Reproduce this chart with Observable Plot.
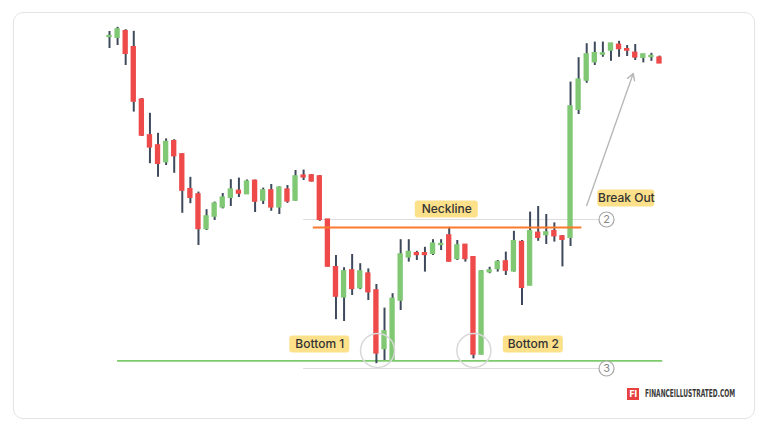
<!DOCTYPE html>
<html>
<head>
<meta charset="utf-8">
<script src="https://cdn.jsdelivr.net/npm/d3@7"></script>
<script src="https://cdn.jsdelivr.net/npm/@observablehq/plot@0.6"></script>
<style>
  html, body { margin: 0; padding: 0; background: #fff; }
  #wrap { position: relative; width: 768px; height: 432px; overflow: hidden; }
  #frame { position: absolute; left: 13px; top: 12px; width: 740px; height: 405px; border: 1px solid #e4e4e4; border-radius: 10px; }
  #chart { position: absolute; left: 0; top: 0; }
  #logo { position: absolute; left: 627px; top: 388px; height: 12px; }
  #logo .mark { position: absolute; left: 0; top: 0; width: 12px; height: 12px; background: #e8403f; color: #fff; font: bold 8px "DejaVu Sans", sans-serif; display: flex; align-items: center; justify-content: center; letter-spacing: -0.5px; }
  #logo .name { position: absolute; left: 18px; top: -1px; white-space: nowrap; font: bold 11px "Liberation Sans Narrow", "DejaVu Sans Condensed", sans-serif; color: #3a3a3a; transform-origin: 0 50%; line-height: 14px; }
</style>
</head>
<body>
<div id="wrap">
  <div id="frame"></div>
  <div id="chart"></div>
  <div id="logo"><div class="mark">FI</div><div class="name">FINANCEILLUSTRATED.COM</div></div>
</div>
<script>
// ---- Data (price units) ----
const open = [90.9, 90.7, 92.3, 88.3, 75.2, 66.25, 63.75, 59.6, 64.8, 61.5,
  52.8, 51.5, 42.9, 46.0, 48.3, 50.7, 52.4, 51.6, 54.9, 50.0,
  52.5, 48.3, 52.7, 50.0, 56.2, 56.25, 56.0, 45.2, 33.3, 25.8,
  32.5, 28.1, 31.7, 27.5, 12.9, 10.2, 25.0, 35.8, 36.8, 36.8,
  36.7, 38.9, 41.25, 35.4, 38.9, 35.8, 11.5, 32.1, 32.9, 34.75,
  32.3, 39.6, 28.75, 41.9, 41.4, 42.3, 41.0, 40.7, 72.7, 80.0,
  84.6, 86.5, 87.5, 88.9, 87.8, 86.9, 85.7, 85.9, 85.7];
const close = [91.1, 92.75, 86.7, 74.75, 66.25, 63.3, 59.2, 64.6, 61.1, 52.5,
  50.7, 42.9, 46.0, 49.2, 50.7, 52.7, 51.75, 54.7, 49.75, 52.5,
  48.3, 53.2, 49.8, 56.0, 55.8, 54.8, 45.2, 33.5, 26.0, 32.25,
  27.9, 32.25, 27.1, 11.8, 17.25, 25.4, 36.5, 37.1, 36.4, 36.4,
  39.2, 39.1, 34.75, 38.75, 35.4, 11.5, 32.25, 32.5, 34.6, 32.5,
  39.8, 28.2, 42.3, 40.7, 42.0, 41.1, 40.2, 73.5, 80.2, 86.5,
  86.8, 86.75, 89.2, 87.9, 87.5, 85.8, 86.5, 86.1, 84.3];
const high = [92.25, 93.3, 92.7, 92.3, 75.5, 71.8, 66.8, 65.4, 65.2, 61.7,
  55.8, 52.1, 47.7, 49.6, 51.75, 55.2, 55.6, 55.1, 55.1, 53.1,
  54.0, 53.4, 53.75, 57.5, 57.6, 56.5, 56.25, 45.25, 36.25, 33.2,
  36.5, 34.2, 32.9, 29.0, 23.1, 26.7, 40.2, 40.2, 37.3, 38.3,
  40.2, 40.2, 43.3, 40.0, 39.0, 35.9, 32.5, 33.3, 35.0, 37.1,
  42.3, 40.0, 47.1, 48.5, 46.5, 44.4, 41.25, 79.6, 85.7, 89.2,
  89.6, 89.6, 89.3, 89.8, 88.75, 89.0, 86.5, 86.8, 86.1];
const low = [88.0, 88.75, 83.75, 72.1, 66.0, 59.2, 55.8, 58.75, 56.8, 46.8,
  49.2, 38.75, 42.5, 45.0, 47.9, 48.5, 50.75, 51.5, 47.0, 49.0,
  47.3, 46.5, 49.3, 49.8, 55.0, 54.6, 44.8, 33.3, 20.2, 19.75,
  26.25, 27.7, 25.0, 9.2, 10.0, 10.0, 22.5, 34.6, 35.0, 32.1,
  36.25, 37.5, 34.6, 35.0, 34.6, 10.4, 11.4, 31.7, 32.1, 31.25,
  32.1, 23.75, 28.75, 39.8, 39.0, 39.6, 33.4, 38.5, 71.5, 79.3,
  83.75, 85.8, 84.8, 85.8, 86.0, 85.0, 84.4, 84.8, 84.25];

// Level lines: price, from index, to index
const necklineLevel = [{p: 43.25, i1: 25.2, i2: 58.4}];
const supportLevel  = [{p: 9.9, i1: 1.0, i2: 68.4}];
const guideLevels   = [{p: 45.25, i1: 24.0, i2: 61.45}, {p: 8.0, i1: 24.0, i2: 61.45}];
const markers       = [{n: "2", i: 61.45, p: 45.25}, {n: "3", i: 61.45, p: 8.0}];
const bottoms       = [{i: 33.14, p: 12.5}, {i: 45.05, p: 12.5}];
const labels        = [
  {text: "Neckline", i: 41.7, p: 47.75},
  {text: "Bottom 1", i: 26.0, p: 14.0},
  {text: "Bottom 2", i: 52.4, p: 14.0},
  {text: "Break Out", i: 63.9, p: 50.5}
];
const breakoutArrow = [{i1: 59.0, p1: 48.75, i2: 64.75, p2: 81.75}];

// ---- Styles ----
const GREEN = "#80c874", RED = "#ee4a4a", WICK = "#3e4a5b";
const boxW = {"Neckline": 63, "Bottom 1": 60, "Bottom 2": 60, "Break Out": 57};

const candles = open.map((o, i) => ({i, open: o, close: close[i], high: high[i], low: low[i]}));
const half = 0.33;

const chart = Plot.plot({
  width: 768, height: 432,
  marginTop: 0, marginBottom: 0, marginLeft: 0, marginRight: 0,
  x: {type: "linear", domain: [0, 68], range: [109, 659], axis: null},
  y: {type: "linear", domain: [0, 100], range: [400, 0], axis: null},
  style: {background: "transparent", fontFamily: "Inter, Roboto, sans-serif"},
  marks: [
    Plot.ruleY(guideLevels, {y: "p", x1: "i1", x2: "i2", stroke: "#dddddd", strokeWidth: 1}),
    Plot.ruleY(supportLevel, {y: "p", x1: "i1", x2: "i2", stroke: "#7dca6c", strokeWidth: 1.6}),
    Plot.ruleX(candles, {x: "i", y1: "low", y2: "high", stroke: WICK, strokeWidth: 2}),
    Plot.rect(candles, {filter: d => d.close >= d.open, x1: d => d.i - half, x2: d => d.i + half, y1: "open", y2: "close", fill: GREEN, insetTop: -0.8, insetBottom: -0.8}),
    Plot.rect(candles, {filter: d => d.close < d.open, x1: d => d.i - half, x2: d => d.i + half, y1: "open", y2: "close", fill: RED, insetTop: -0.8, insetBottom: -0.8}),
    Plot.ruleY(necklineLevel, {y: "p", x1: "i1", x2: "i2", stroke: "#fb7a2c", strokeWidth: 2}),
    Plot.dot(bottoms, {x: "i", y: "p", r: 17, stroke: "#d8d8d8", strokeWidth: 1.5, fill: "none"}),
    Plot.arrow(breakoutArrow, {x1: "i1", y1: "p1", x2: "i2", y2: "p2", stroke: "#b8b8b8", strokeWidth: 1.4, headLength: 8}),
    Plot.dot(markers, {x: "i", y: "p", r: 7.5, stroke: "#a8a8a8", strokeWidth: 1.2, fill: "#fff"}),
    Plot.text(markers, {x: "i", y: "p", text: "n", fontSize: 11, fill: "#888"}),
    ...labels.map(l => Plot.rect([l], {x1: "i", x2: "i", y1: "p", y2: "p",
      insetLeft: -boxW[l.text] / 2, insetRight: -boxW[l.text] / 2, insetTop: -8.5, insetBottom: -8.5,
      fill: "#fce08a", rx: 3})),
    Plot.text(labels, {x: "i", y: "p", text: "text", fontSize: 12, fontWeight: 500, fill: "#333"})
  ]
});
document.getElementById("chart").appendChild(chart);

// fit the brand name to its width in the reference (~90px)
const nameEl = document.querySelector("#logo .name");
const w = nameEl.getBoundingClientRect().width;
if (w > 0) nameEl.style.transform = `scaleX(${90 / w})`;
</script>
</body>
</html>
